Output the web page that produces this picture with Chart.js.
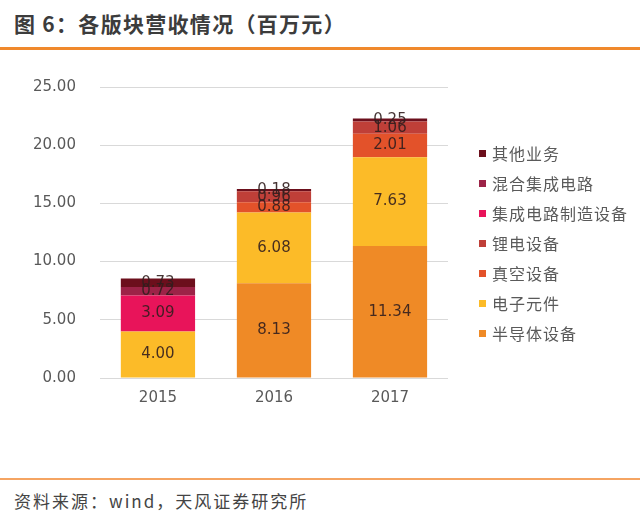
<!DOCTYPE html>
<html>
<head>
<meta charset="utf-8">
<script src="https://cdn.jsdelivr.net/npm/chart.js@4"></script>
<style>
  body { margin: 0; background: #fff; width: 640px; height: 513px; position: relative; overflow: hidden;
         font-family: "Noto Sans CJK SC", "Liberation Sans", sans-serif; }
  .title { position: absolute; left: 14px; top: 8px; font-size: 21px; font-weight: bold; color: #3c3c3c; letter-spacing: 1.3px; line-height: 30px; }
  .rule-top { position: absolute; left: 0; top: 47px; width: 640px; height: 3px; background: #f0892c; }
  .rule-bot { position: absolute; left: 0; top: 478px; width: 640px; height: 2px; background: #f5a462; }
  .source { position: absolute; left: 14px; top: 488px; font-size: 17px; color: #444; line-height: 26px; letter-spacing: 2px; }
  .wrap { position: absolute; left: 0; top: 54px; width: 640px; height: 410px; }
  #legend { position: absolute; left: 479px; top: 0; }
  #legend div { position: absolute; left: 0; white-space: nowrap; font-size: 16px; color: #5a5a5a; letter-spacing: 1px; line-height: 20px; }
  #legend span { display: inline-block; width: 7px; height: 7px; margin-right: 6px; vertical-align: 3px; }
</style>
</head>
<body>
<div class="title">图 6：各版块营收情况（百万元）</div>
<div class="rule-top"></div>
<div class="wrap"><canvas id="chart"></canvas></div>
<div id="legend"></div>
<div class="rule-bot"></div>
<div class="source">资料来源：wind，天风证券研究所</div>

<script>
// ── Data ─────────────────────────────────────────────────────
const years = ['2015', '2016', '2017'];

const segNames  = ['半导体设备', '电子元件', '真空设备', '锂电设备', '集成电路制造设备', '混合集成电路', '其他业务'];
const segColors = ['#ef8a26', '#fcbb28', '#e3522a', '#bf3f38', '#e8145a', '#9c2347', '#6c0f1c'];

const semiEquip   = [0,    8.13, 11.34];
const components  = [4.00, 6.08, 7.63];
const vacuum      = [0,    0.88, 2.01];
const lithium     = [0,    0.96, 1.06];
const icEquip     = [3.09, 0,    0];
const hybridIc    = [0.72, 0,    0];
const otherBiz    = [0.73, 0.18, 0.25];

const segValues = [semiEquip, components, vacuum, lithium, icEquip, hybridIc, otherBiz];

const yTicks = [0, 5, 10, 15, 20, 25];

// ── Legend (top item = top of stack) ─────────────────────────
const legendEl = document.getElementById('legend');
segNames.slice().reverse().forEach((name, i) => {
  const color = segColors[segNames.length - 1 - i];
  const row = document.createElement('div');
  row.style.top = (143 + i * 30) + 'px';
  row.innerHTML = `<span style="background:${color}"></span>${name}`;
  legendEl.appendChild(row);
});

// ── Value labels inside segments ─────────────────────────────
const valueLabels = {
  id: 'valueLabels',
  afterDatasetsDraw(chart) {
    const ctx = chart.ctx;
    ctx.save();
    ctx.font = '15px "DejaVu Sans", sans-serif';
    ctx.fillStyle = 'rgba(50,30,30,0.9)';
    ctx.textAlign = 'center';
    ctx.textBaseline = 'middle';
    chart.data.datasets.forEach((ds, di) => {
      chart.getDatasetMeta(di).data.forEach((bar, i) => {
        const v = ds.data[i];
        if (!v) return;
        const p = bar.getProps(['x', 'y', 'base'], true);
        ctx.fillText(v.toFixed(2), p.x, (p.y + p.base) / 2);
      });
    });
    ctx.restore();
  }
};

new Chart(document.getElementById('chart'), {
  type: 'bar',
  data: {
    labels: years,
    datasets: segNames.map((name, i) => ({
      label: name,
      data: segValues[i],
      backgroundColor: segColors[i],
      borderWidth: 0,
      categoryPercentage: 0.64,
      barPercentage: 1
    }))
  },
  options: {
    responsive: true,
    maintainAspectRatio: false,
    animation: false,
    layout: { padding: { left: 9, right: 192, top: 15, bottom: 54 } },
    plugins: {
      tooltip: { enabled: false },
      legend: { display: false }
    },
    scales: {
      x: {
        stacked: true,
        grid: { display: false },
        border: { display: false },
        ticks: { color: '#595959', font: { family: '"DejaVu Sans"', size: 15 }, padding: 3 }
      },
      y: {
        stacked: true,
        min: yTicks[0], max: yTicks[yTicks.length - 1],
        afterBuildTicks: s => { s.ticks = yTicks.map(v => ({ value: v })); },
        grid: { color: '#d9d9d9', drawTicks: false },
        border: { display: false },
        ticks: {
          color: '#595959', padding: 24,
          font: { family: '"DejaVu Sans"', size: 15 },
          callback: v => Number(v).toFixed(2)
        }
      }
    }
  },
  plugins: [valueLabels]
});
</script>
</body>
</html>
